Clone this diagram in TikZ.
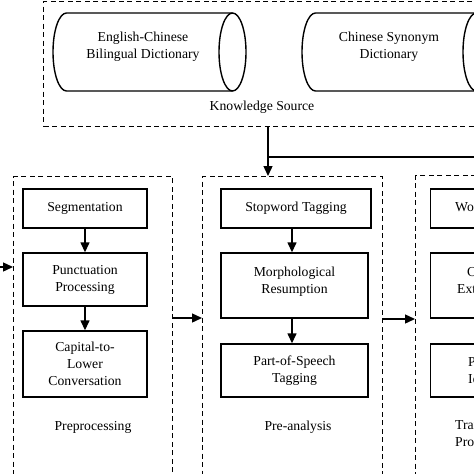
\documentclass[tikz,border=0pt]{standalone}
\usepackage{fontspec}
\setmainfont{Liberation Serif}
\usetikzlibrary{arrows.meta}
\begin{document}
\begin{tikzpicture}[x=1pt,y=-1pt,
  every node/.style={font=\fontsize{13.7}{17}\selectfont, align=center, inner sep=0pt},
  box/.style={draw, line width=1.4pt},
  group/.style={draw, line width=1.4pt, dash pattern=on 5pt off 3.5pt},
  cyl/.style={draw, line width=1.4pt},
  arr/.style={line width=1.4pt, -{Triangle[length=10pt,width=9pt]}},
  link/.style={line width=1.4pt}]
\useasboundingbox (0,0) rectangle (474,474);
\clip (0,0) rectangle (474,474);
% knowledge source
\node[group, anchor=north west, minimum width=700pt, minimum height=125pt] (ks) at (43,1) {};
\draw[cyl] (232.5,13) -- (66.5,13) arc[start angle=270, end angle=90, x radius=13.5, y radius=39] -- (232.5,91);
\draw[cyl] (232.5,52) ellipse[x radius=13.5, y radius=39];
\draw[cyl] (476.5,13) -- (315.5,13) arc[start angle=270, end angle=90, x radius=13.5, y radius=39] -- (476.5,91);
\draw[cyl] (476.5,52) ellipse[x radius=13.5, y radius=39];
\node (d1) at (143,47) {English-Chinese\\Bilingual Dictionary};
\node (d2) at (389,47) {Chinese Synonym\\Dictionary};
\node (kslab) at (262,107) {Knowledge Source};
% groups
\node[group, anchor=north west, minimum width=159pt, minimum height=400pt] (pre) at (13,176) {};
\node[group, anchor=north west, minimum width=180pt, minimum height=400pt] (ana) at (202,176) {};
\node[group, anchor=north west, minimum width=200pt, minimum height=400pt] (tra) at (415,175) {};
% preprocessing
\node[box, minimum width=124pt, minimum height=39pt] (seg) at (85,208.5) {Segmentation};
\node[box, minimum width=124pt, minimum height=53pt] (pun) at (85,279.5) {Punctuation\\Processing};
\node[box, minimum width=124pt, minimum height=66pt] (cap) at (85,364) {Capital-to-\\Lower\\Conversation};
\node (prelab) at (93,427) {Preprocessing};
% pre-analysis
\node[box, minimum width=150pt, minimum height=39pt] (stop) at (296,208.5) {Stopword Tagging};
\node[box, minimum width=147pt, minimum height=65pt] (mor) at (294.5,285.5) {Morphological\\Resumption\\[-6pt]\mbox{}};
\node[box, minimum width=147pt, minimum height=53pt] (pos) at (294.5,370.5) {Part-of-Speech\\Tagging};
\node (analab) at (298,427) {Pre-analysis};
% third column
\node[box, minimum width=150pt, minimum height=39pt] (w1) at (505.5,208.5) {};
\node[box, minimum width=150pt, minimum height=65pt] (w2) at (505.5,285.5) {};
\node[box, minimum width=150pt, minimum height=53pt] (w3) at (505.5,370.5) {};
\node[anchor=west] (w1t) at (455,208.5) {Word Matching};
\node[anchor=west, align=left] (w2t) at (457,280) {\hspace{10pt}Chunk\\Extraction};
\node[anchor=west, align=left] (w3t) at (468,370) {Phrase\\Identification};
\node[anchor=west, align=left] (tralab) at (455,435) {Translation\\Processing};
% connectors
\draw[arr] (seg) -- (pun);
\draw[arr] (pun) -- (cap);
\draw[arr] (stop.south -| 292,0) -- (mor.north -| 292,0);
\draw[arr] (mor.south -| 292,0) -- (pos.north -| 292,0);
\coordinate (in) at (-2,267);
\draw[arr] (in) -- (in -| pre.west);
\draw[arr] (pre.east |- 0,318) -- (ana.west |- 0,318);
\draw[arr] (ana.east |- 0,319) -- (tra.west |- 0,319);
\coordinate (br) at (268,157);
\coordinate (brr) at (480,157);
\draw[arr] (ks.south -| br) -- (ana.north -| br);
\draw[link] (br) -- (brr);
\end{tikzpicture}
\end{document}
